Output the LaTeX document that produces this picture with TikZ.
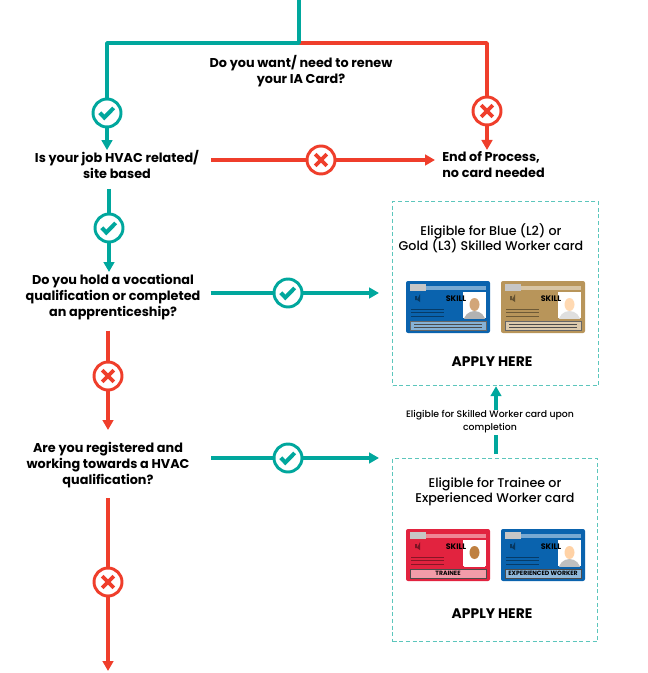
\documentclass[tikz,border=0pt]{standalone}
\usepackage{fontspec}
\setmainfont{Poppins}
\newfontfamily\medium{Poppins Medium}
\usetikzlibrary{arrows.meta}
\usetikzlibrary{positioning}

\definecolor{tealc}{HTML}{00A79D}
\definecolor{redc}{HTML}{EF3E2B}
\definecolor{dashc}{HTML}{5CC6BC}
\definecolor{cardblue}{HTML}{0A63AE}
\definecolor{cardtan}{HTML}{B8955A}
\definecolor{cardred}{HTML}{E2233F}

\tikzset{
  ques/.style={font=\bfseries\fontsize{9.6}{12}\selectfont,align=center,inner sep=0pt,text=black},
  yesline/.style={draw=tealc,line width=2.6pt},
  noline/.style={draw=redc,line width=2.6pt},
  yestip/.style={yesline,-{Triangle[length=7.5pt,width=8pt]}},
  notip/.style={noline,-{Triangle[length=7.5pt,width=8pt]}},
  yesmark/.style={circle,draw=tealc,fill=white,line width=2.2pt,minimum size=21pt,inner sep=0pt,
    path picture={\draw[tealc,line width=3pt] (path picture bounding box.center) ++(-5.4pt,0.2pt) -- ++(3.4pt,-3.6pt) -- ++(7pt,7.2pt);}},
  nomark/.style={circle,draw=redc,fill=white,line width=2.2pt,minimum size=21pt,inner sep=0pt,
    path picture={\draw[redc,line width=2.8pt] (path picture bounding box.center) ++(-4.4pt,-4.4pt) -- ++(8.8pt,8.8pt) ++(-8.8pt,0) -- ++(8.8pt,-8.8pt);}},
  dashbox/.style={draw=dashc,line width=0.9pt,dash pattern=on 3pt off 2pt},
  boxtext/.style={font=\medium\fontsize{9.5}{11.6}\selectfont,align=center,inner sep=0pt},
  applytext/.style={font=\bfseries\fontsize{10.4}{12}\selectfont,inner sep=0pt}
}

% one id card, #1 name, #2 top left corner, #3 card colour, #4 skin, #5 shirt
\newcommand{\drawcard}[5]{
  \begin{scope}[shift={#2}]
    \fill [#3,rounded corners=1.5pt] (0,0) rectangle (84,52);
    \fill [#3!55!white] (20,5) rectangle (80,9);
    \fill [gray!45] (4,3) rectangle (20,10);
    \fill [#3!55!black] (9,15) rectangle (11,19) -- (14,21) -- (14,13) -- cycle;
    \fill [white] (57,11) rectangle (80,37);
    \begin{scope}
      \clip (57,11) rectangle (80,37);
      \fill [#5] (68.5,41) ellipse (11 and 11);
      \fill [#4] (68.5,23.5) ellipse (5 and 6.5);
    \end{scope}
    \node (#1skill) [font=\bfseries\fontsize{6}{6}\selectfont,inner sep=0pt] at (50,17.5) {SKILL};
    \foreach \y in {28,31,35} {
      \draw [#3!60!black,line width=0.4pt] (5,\y) -- (38,\y);
    }
  \end{scope}
}

\begin{document}
\begin{tikzpicture}[x=0.75pt,y=-0.75pt]
    \useasboundingbox (0,0) rectangle (648,673);

    % questions
    \node (renew) [ques] at (301,71) {Do you want/ need to renew\\your IA Card?};
    \node (job) [ques] at (117,164.5) {Is your job HVAC related/\\site based};
    \node (endproc) [ques,align=left,anchor=west] at (442,164.5) {End of Process,\\no card needed};
    \node (vocational) [ques] at (113,297.5) {Do you hold a vocational\\qualification or completed\\an apprenticeship?};
    \node (working) [ques] at (108,465) {Are you registered and\\working towards a HVAC\\qualification?};

    % marks
    \node (yesrenew) [yesmark] at (107,113) {};
    \node (norenew) [nomark] at (487,111) {};
    \node (nojob) [nomark] at (321,160) {};
    \node (yesjob) [yesmark] at (109,228) {};
    \node (yesvoc) [yesmark] at (288,293) {};
    \node (novoc) [nomark] at (108,376) {};
    \node (yeswork) [yesmark] at (288,458) {};
    \node (nowork) [nomark] at (108,582) {};

    % card boxes
    \node (skilledbox) [dashbox,minimum width=154.5pt,minimum height=138pt,anchor=north west,inner sep=0pt] at (392,201) {};
    \node (traineebox) [dashbox,minimum width=153.75pt,minimum height=137.25pt,anchor=north west,inner sep=0pt] at (392,458) {};

    \node (skilledtitle) [boxtext] at (491,238.5) {Eligible for Blue (L2) or\\Gold (L3) Skilled Worker card};
    \node (traineetitle) [boxtext] at (495,492) {Eligible for Trainee or\\Experienced Worker card};
    \node (skilledapply) [applytext] at (492,361.5) {APPLY HERE};
    \node (traineeapply) [applytext] at (492,613.5) {APPLY HERE};

    \drawcard{bl}{(406,281)}{cardblue}{brown!70!white}{gray!60}
    \drawcard{tn}{(501,281)}{cardtan}{orange!30!white}{gray!25}
    \drawcard{rd}{(406,529)}{cardred}{brown}{white}
    \drawcard{ex}{(501,529)}{cardblue}{orange!35!white}{gray!50}

    % bottom strips of the cards
    \fill [cardblue!50!white,draw=black!60,line width=0.4pt] (410,321) rectangle (486,330);
    \fill [cardtan!50!white,draw=black!60,line width=0.4pt] (505,321) rectangle (581,330);
    \foreach \x in {410,505} {
      \draw [black!70,line width=0.4pt] (\x+4,324) -- (\x+72,324);
      \draw [black!70,line width=0.4pt] (\x+4,327) -- (\x+72,327);
    }
    \node (stripred) [draw=black!70,line width=0.4pt,fill=cardred!45!white,minimum width=57pt,minimum height=6.5pt,inner sep=0pt,font=\bfseries\fontsize{4.6}{5}\selectfont] at (448,573.5) {TRAINEE};
    \node (stripblue) [draw=black!70,line width=0.4pt,fill=cardblue!45!white,minimum width=57pt,minimum height=6.5pt,inner sep=0pt,font=\bfseries\fontsize{4.6}{5}\selectfont] at (543,573.5) {EXPERIENCED WORKER};

    % connectors
    \coordinate (topend) at (299,0);
    \coordinate (split) at (299,43);
    \draw [noline,line join=round] (split) -| (norenew);
    \draw [yesline,line join=round] (topend) -- (split) -| (yesrenew);
    \draw [notip] (norenew) -- (487,150);
    \draw [yestip] (yesrenew) -- (yesrenew |- job.north);

    \draw [noline,shorten <=9pt] (job.east |- nojob) -- (nojob);
    \draw [notip] (nojob) -- (435,160);

    \draw [yesline,shorten <=7.5pt] (job.south -| yesjob) -- (yesjob);
    \draw [yestip] (yesjob) -- (109,272);

    \draw [yesline,shorten <=7.5pt] (vocational.east |- yesvoc) -- (yesvoc);
    \draw [yestip] (yesvoc) -- (379,293);

    \draw [noline,shorten <=7.5pt] (vocational.south -| novoc) -- (novoc);
    \draw [notip] (novoc) -- (108,430);

    \draw [yesline,shorten <=16pt] (working.east |- yeswork) -- (yeswork);
    \draw [yestip] (yeswork) -- (379,458);

    \draw [noline,shorten <=7.5pt] (working.south -| nowork) -- (nowork);
    \coordinate (bottomend) at (108,671);
    \draw [notip] (nowork) -- (bottomend);

    % upgrade arrow
    \node (upgrade) [font=\medium\fontsize{7}{9.3}\selectfont,align=center,inner sep=0pt] at (490,421.5) {Eligible for Skilled Worker card upon\\completion};
    \draw [yesline,shorten >=2pt] (traineebox.north -| 496,0) ++(0,-4) -- (upgrade.south -| 496,0);
    \draw [yestip] (upgrade.north -| 496,0) -- (skilledbox.south -| 496,0);
\end{tikzpicture}
\end{document}
